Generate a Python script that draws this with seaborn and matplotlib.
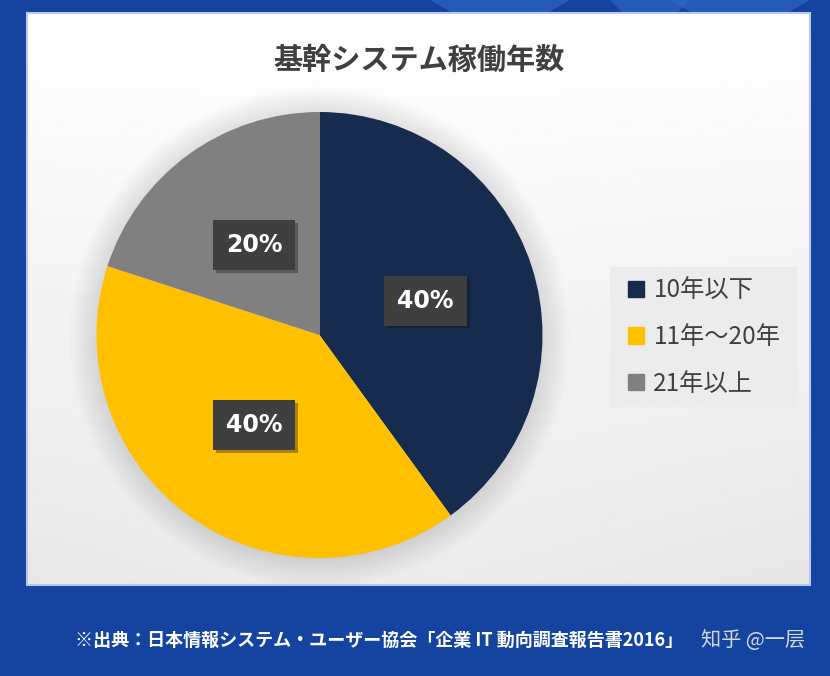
import matplotlib.pyplot as plt
import matplotlib.patches as mpatches
import matplotlib.patheffects as pe
import numpy as np
import seaborn as sns

# データ
categories = ['10年以下', '11年～20年', '21年以上']
shares = [40, 40, 20]
colors = ['#172b4f', '#ffc000', '#808080']

title = '基幹システム稼働年数'
source = '※出典：日本情報システム・ユーザー協会「企業 IT 動向調査報告書2016」'
watermark = '知乎 @一层'

sns.set_theme(style='white')
plt.rcParams['font.family'] = ['Noto Sans CJK JP', 'DejaVu Sans']

W, H = 830, 676
fig = plt.figure(figsize=(W / 100, H / 100), dpi=100)
fig.patch.set_facecolor('#1443a0')

# 背景（白いパネル、グラデーション）
bg = fig.add_axes([0, 0, 1, 1])
bg.set_xlim(0, W)
bg.set_ylim(H, 0)
bg.axis('off')
# 上部の薄いひし形模様
for cx in [500, 740, 990]:
    bg.add_patch(mpatches.Polygon([[cx - 70, 0], [cx + 70, 0], [cx, 40]],
                                  closed=True, color='#2f6cc8', alpha=0.6, lw=0))
bg.add_patch(mpatches.Polygon([[610, 0], [690, 0], [650, 40]], closed=True,
                              color='#2f6cc8', alpha=0.6, lw=0))
grad = np.linspace(0, 1, 200)[:, None] * np.ones((1, 200))
gx = np.linspace(0, 1, 200)[None, :]
img = 1.0 - 0.10 * (0.75 * grad + 0.35 * np.abs(gx - 0.45) * grad)
bg.imshow(img, cmap='gray', vmin=0, vmax=1, extent=[27, 810, 585, 13],
          aspect='auto', zorder=1)
bg.add_patch(mpatches.Rectangle((27, 13), 783, 572, fill=False,
                                ec='#b9c8e6', lw=1.5, zorder=2))

# パイのシャドウ
for r in np.linspace(1.12, 1.0, 10):
    bg.add_patch(mpatches.Circle((319.5, 337), 223 * r, color='black',
                                 alpha=0.012, lw=0, zorder=2))

# 円グラフ
ax = fig.add_axes([96.5 / W, 1 - 558 / H, 446 / W, 446 / H])
wedges, texts, autotexts = ax.pie(
    shares, colors=colors, startangle=90, counterclock=False,
    autopct='%d%%', pctdistance=0.5,
    textprops=dict(color='white', fontsize=17, fontweight='bold',
                   family='DejaVu Sans'),
    wedgeprops=dict(lw=0))
for t in autotexts:
    t.set_bbox(dict(boxstyle='square,pad=0.55', fc='#3f3f3f', ec='none'))
    t.get_bbox_patch().set_path_effects(
        [pe.SimplePatchShadow(offset=(2, -2), alpha=0.35), pe.Normal()])
ax.set_xlim(-1, 1)
ax.set_ylim(-1, 1)
ax.set_aspect('equal')

# 凡例
bg.add_patch(mpatches.Rectangle((610, 267), 187, 140, color='#ececec', lw=0, zorder=2))
handles = [mpatches.Patch(color=c, label=l) for c, l in zip(colors, categories)]
leg = fig.legend(handles=handles, loc='center left',
                 bbox_to_anchor=(606 / W, 1 - 337 / H), frameon=False,
                 fontsize=17.5, handlelength=0.65, handleheight=0.65,
                 handletextpad=0.4, labelspacing=0.85, labelcolor='#404040')

# タイトル
fig.text(419 / W, 1 - 60 / H, title, ha='center', va='center',
         fontsize=21, fontweight='bold', color='#404040')

# 出典
fig.text(75 / W, 1 - 640 / H, source, ha='left', va='center',
         fontsize=13, fontweight='bold', color='white')
fig.text(805 / W, 1 - 640 / H, watermark, ha='right', va='center',
         fontsize=14.5, color='#e8e8e8', alpha=0.9)

fig.savefig('out.png', dpi=100, facecolor=fig.get_facecolor())
